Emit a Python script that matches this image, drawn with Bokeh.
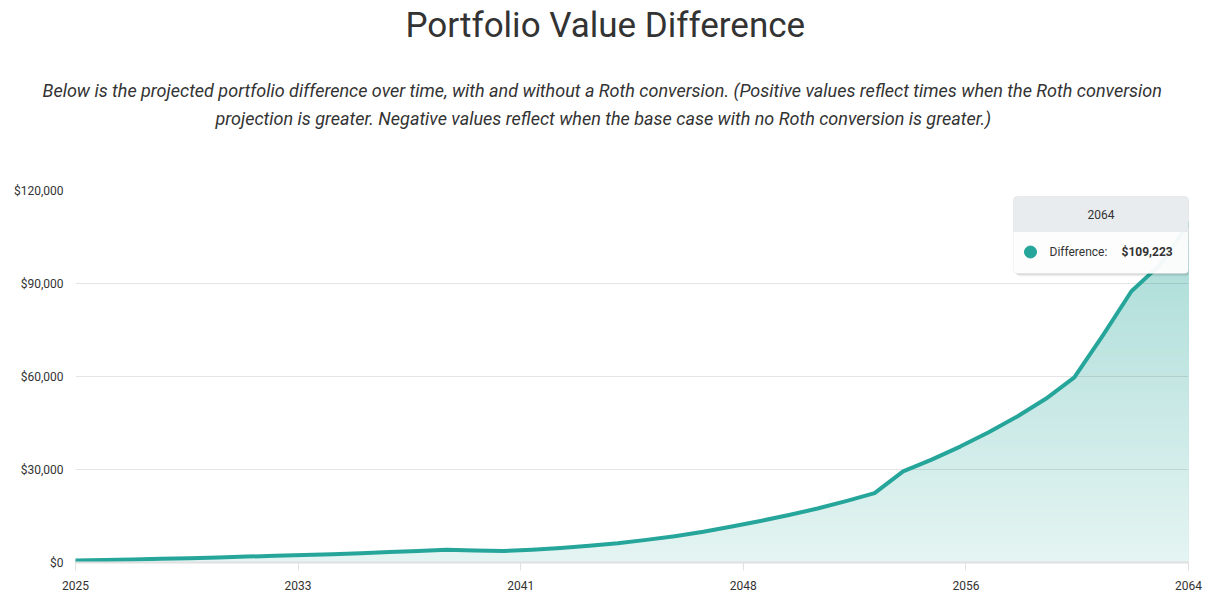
from bokeh.plotting import figure
from bokeh.models import (Range1d, FixedTicker, CustomJSTickFormatter, NumeralTickFormatter,
                          Title, BoxAnnotation, Label)
from bokeh.embed import file_html
from bokeh.resources import INLINE

# ---- data -------------------------------------------------------------
years = list(range(2025, 2065))
difference = [
    650, 800, 1000, 1200, 1400, 1650, 1900, 2150, 2400, 2700,
    3000, 3350, 3700, 4100, 3900, 3700, 4100, 4700, 5400, 6200,
    7300, 8500, 9900, 11600, 13400, 15300, 17400, 19800, 22400, 29400,
    33200, 37400, 42000, 47100, 52800, 59700, 73300, 87500, 96000, 109223,
]
y_ticks = [0, 30000, 60000, 90000, 120000]
series_name = "Difference"

title_text = "Portfolio Value Difference"
subtitle_lines = [
    "Below is the projected portfolio difference over time, with and without a Roth conversion. "
    "(Positive values reflect times when the Roth conversion",
    "projection is greater. Negative values reflect when the base case with no Roth conversion is greater.)",
]

# ---- geometry / style -------------------------------------------------
W, H = 1213, 611
LEFT, RIGHT, BOTTOM = 75, 25, 49
TOP = 190
X0, X1 = years[0], years[-1]
Y0, Y1 = y_ticks[0], y_ticks[-1]
px_x = (W - LEFT - RIGHT) / (X1 - X0)
px_y = (H - TOP - BOTTOM) / (Y1 - Y0)

TEAL = "#26a69a"
TEXT = "#333333"
FONT = "Roboto"


def blend(alpha, rgb=(38, 166, 154)):
    """Solid colour equal to TEAL at `alpha` over white."""
    return "#%02x%02x%02x" % tuple(int(round(255 - alpha * (255 - c))) for c in rgb)


def capped(xs, vs, cap):
    """Polyline min(v, cap) with the crossing points inserted."""
    ox, oy = [], []
    for i in range(len(xs)):
        if i > 0:
            v0, v1 = vs[i - 1], vs[i]
            if (v0 - cap) * (v1 - cap) < 0:
                t = (cap - v0) / (v1 - v0)
                ox.append(xs[i - 1] + t * (xs[i] - xs[i - 1]))
                oy.append(cap)
        ox.append(xs[i])
        oy.append(min(vs[i], cap))
    return ox, oy


p = figure(width=W, height=H, x_range=Range1d(X0, X1), y_range=Range1d(Y0, Y1),
           output_backend="svg", toolbar_location=None, title=None,
           min_border_left=LEFT, min_border_right=RIGHT,
           min_border_bottom=BOTTOM, min_border_top=0)
p.outline_line_color = None
p.background_fill_color = "white"
p.border_fill_color = "white"


def spacer(gap):
    return Title(text=" ", text_font_size="1px", standoff=max(gap - 3, 0))


def heading(text, size, style, offset, standoff):
    return Title(text=text, align="left", offset=offset, text_font=FONT,
                 text_font_size=size, text_font_style=style,
                 text_color=TEXT, standoff=standoff)


# ---- titles (added from the plot upward) -------------------------------
p.add_layout(spacer(59.5), "above")
p.add_layout(heading(subtitle_lines[1], "18px", "italic", 140, 4), "above")
p.add_layout(heading(subtitle_lines[0], "18px", "italic", -33, 6), "above")
p.add_layout(spacer(26.5), "above")
p.add_layout(heading(title_text, "35px", "normal", 330, 4), "above")

# ---- gradient area: nested bands, darker towards the top --------------
vmax = max(difference)
step = 4 / px_y            # one band every 4 screen pixels
a_top, a_bot = 0.40, 0.12
caps = []
c = vmax
while c > 0:
    caps.append(c)
    c -= step
for cap in caps:
    mid = max(cap - step / 2, 0)
    alpha = a_bot + (a_top - a_bot) * mid / vmax
    bx, by = capped(years, difference, cap)
    p.varea(x=bx, y1=0, y2=by, fill_color=blend(alpha), fill_alpha=1.0, level="image")

# ---- series line ------------------------------------------------------
p.line(years, difference, line_width=4, line_color=TEAL, line_join="round", line_cap="round")

# ---- axes ---------------------------------------------------------------
p.xaxis.ticker = FixedTicker(ticks=[X0 + (X1 - X0) * k / 5 for k in range(6)])
p.xaxis.formatter = CustomJSTickFormatter(code="return Math.round(tick).toString();")
p.xaxis.axis_line_color = "#e0e0e0"
p.xaxis.axis_line_width = 2
p.xaxis.major_tick_line_color = "#e0e0e0"
p.xaxis.major_tick_in = 0
p.xaxis.major_tick_out = 8
p.xaxis.minor_tick_line_color = None
p.xaxis.major_label_text_font = FONT
p.xaxis.major_label_text_font_size = "12px"
p.xaxis.major_label_text_color = TEXT
p.xaxis.major_label_standoff = 10

p.yaxis.ticker = FixedTicker(ticks=y_ticks)
p.yaxis.formatter = NumeralTickFormatter(format="$0,0")
p.yaxis.axis_line_color = None
p.yaxis.major_tick_line_color = None
p.yaxis.minor_tick_line_color = None
p.yaxis.major_tick_in = 0
p.yaxis.major_tick_out = 0
p.yaxis.major_label_text_font = FONT
p.yaxis.major_label_text_font_size = "12px"
p.yaxis.major_label_text_color = TEXT
p.yaxis.major_label_standoff = 12

p.xgrid.visible = False
p.ygrid.grid_line_color = "black"
p.ygrid.grid_line_alpha = 0.1
p.ygrid.grid_line_width = 1

# ---- tooltip for the last point -----------------------------------------
ax, ay = years[-1], Y1          # anchored to last year, top of the plot
def dx(px):
    return px / px_x
def dy(px):
    return px / px_y

box_l, box_r = ax - dx(175), ax
box_t, box_hdr, box_b = ay - dy(6), ay - dy(41), ay - dy(83)

for off, a in ((3, 0.04), (2, 0.06), (1, 0.08)):
    p.add_layout(BoxAnnotation(left=box_l + dx(off), right=box_r + dx(off),
                               top=box_t - dy(off), bottom=box_b - dy(off),
                               fill_color="black", fill_alpha=a, line_color=None,
                               border_radius=4))
p.add_layout(BoxAnnotation(left=box_l, right=box_r, top=box_t, bottom=box_b,
                           fill_color="white", fill_alpha=0.95,
                           line_color="#d6d9dc", line_width=1, border_radius=4))
p.add_layout(BoxAnnotation(left=box_l, right=box_r, top=box_t, bottom=box_hdr,
                           fill_color="#e9ecef", fill_alpha=1.0,
                           line_color="#d6d9dc", line_width=1,
                           border_radius=(4, 4, 0, 0)))

row_y = ay - dy(61.5)
p.add_layout(Label(x=(box_l + box_r) / 2, y=ay - dy(23.5), text=str(years[-1]),
                   text_align="center", text_baseline="middle", text_font=FONT,
                   text_font_size="12px", text_color=TEXT))
dot = p.scatter([box_l + dx(17)], [row_y], size=12, color=TEAL, level="overlay")
p.add_layout(Label(x=box_l + dx(36), y=row_y, text=f"{series_name}:",
                   text_align="left", text_baseline="middle", text_font=FONT,
                   text_font_size="12px", text_color=TEXT))
p.add_layout(Label(x=box_l + dx(108), y=row_y, text=f"${difference[-1]:,}",
                   text_align="left", text_baseline="middle", text_font=FONT,
                   text_font_size="12px", text_font_style="bold", text_color=TEXT))

open("out.html", "w").write(file_html(p, INLINE))
